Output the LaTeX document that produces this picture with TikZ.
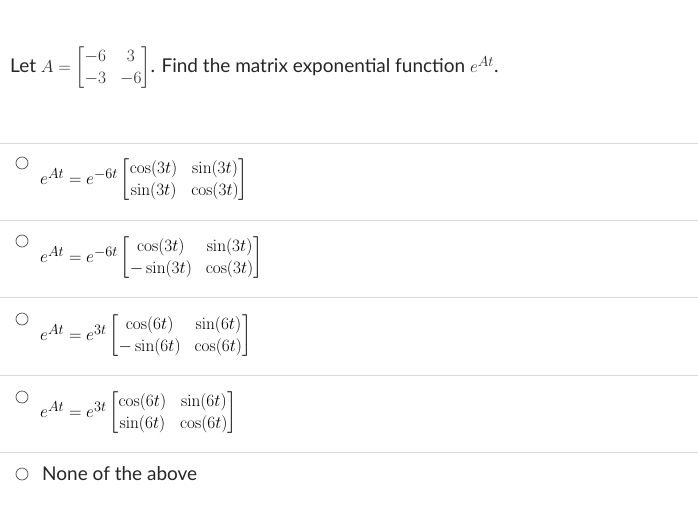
\documentclass[tikz,border=0pt]{standalone}
\usepackage{amsmath}
\usepackage[no-math]{fontspec}
\setmainfont{Lato}
\setlength{\arraycolsep}{7pt}
\tikzset{sep/.style={draw=black!15,line width=0.8pt},
radio/.style={circle,draw=black!70,line width=0.7pt,minimum size=12pt,inner sep=0pt},
txt/.style={anchor=west,inner sep=0pt,text=black!85,font=\fontsize{19}{22}\selectfont},
eq/.style={anchor=west,inner sep=0pt,font=\fontsize{19}{22}\selectfont}}
\begin{document}
\begin{tikzpicture}[x=1pt,y=-1pt]
\useasboundingbox (0,0) rectangle (698,511);
\node[txt] (q) at (10,68) {Let $A=\begin{bmatrix}-6&3\\-3&-6\end{bmatrix}$. Find the matrix exponential function $e^{At}$.};
\foreach \y/\n in {143/l1,220/l2,297/l3,375/l4,452/l5}{\draw[sep] (0,\y) coordinate (\n a) -- (698,\y) coordinate (\n b);}
\foreach \y/\n in {163/r1,241/r2,319/r3,397/r4,474/r5}{\node[radio] (\n) at (22,\y) {};}
\node[eq] (o1) at (40,180) {$e^{At}=e^{-6t}\begin{bmatrix}\cos(3t)&\sin(3t)\\ \sin(3t)&\cos(3t)\end{bmatrix}$};
\node[eq] (o2) at (40,258) {$e^{At}=e^{-6t}\begin{bmatrix}\cos(3t)&\sin(3t)\\ -\sin(3t)&\cos(3t)\end{bmatrix}$};
\node[eq] (o3) at (40,336) {$e^{At}=e^{3t}\begin{bmatrix}\cos(6t)&\sin(6t)\\ -\sin(6t)&\cos(6t)\end{bmatrix}$};
\node[eq] (o4) at (40,413) {$e^{At}=e^{3t}\begin{bmatrix}\cos(6t)&\sin(6t)\\ \sin(6t)&\cos(6t)\end{bmatrix}$};
\node[txt] (o5) at (42,474) {None of the above};
\end{tikzpicture}
\end{document}
